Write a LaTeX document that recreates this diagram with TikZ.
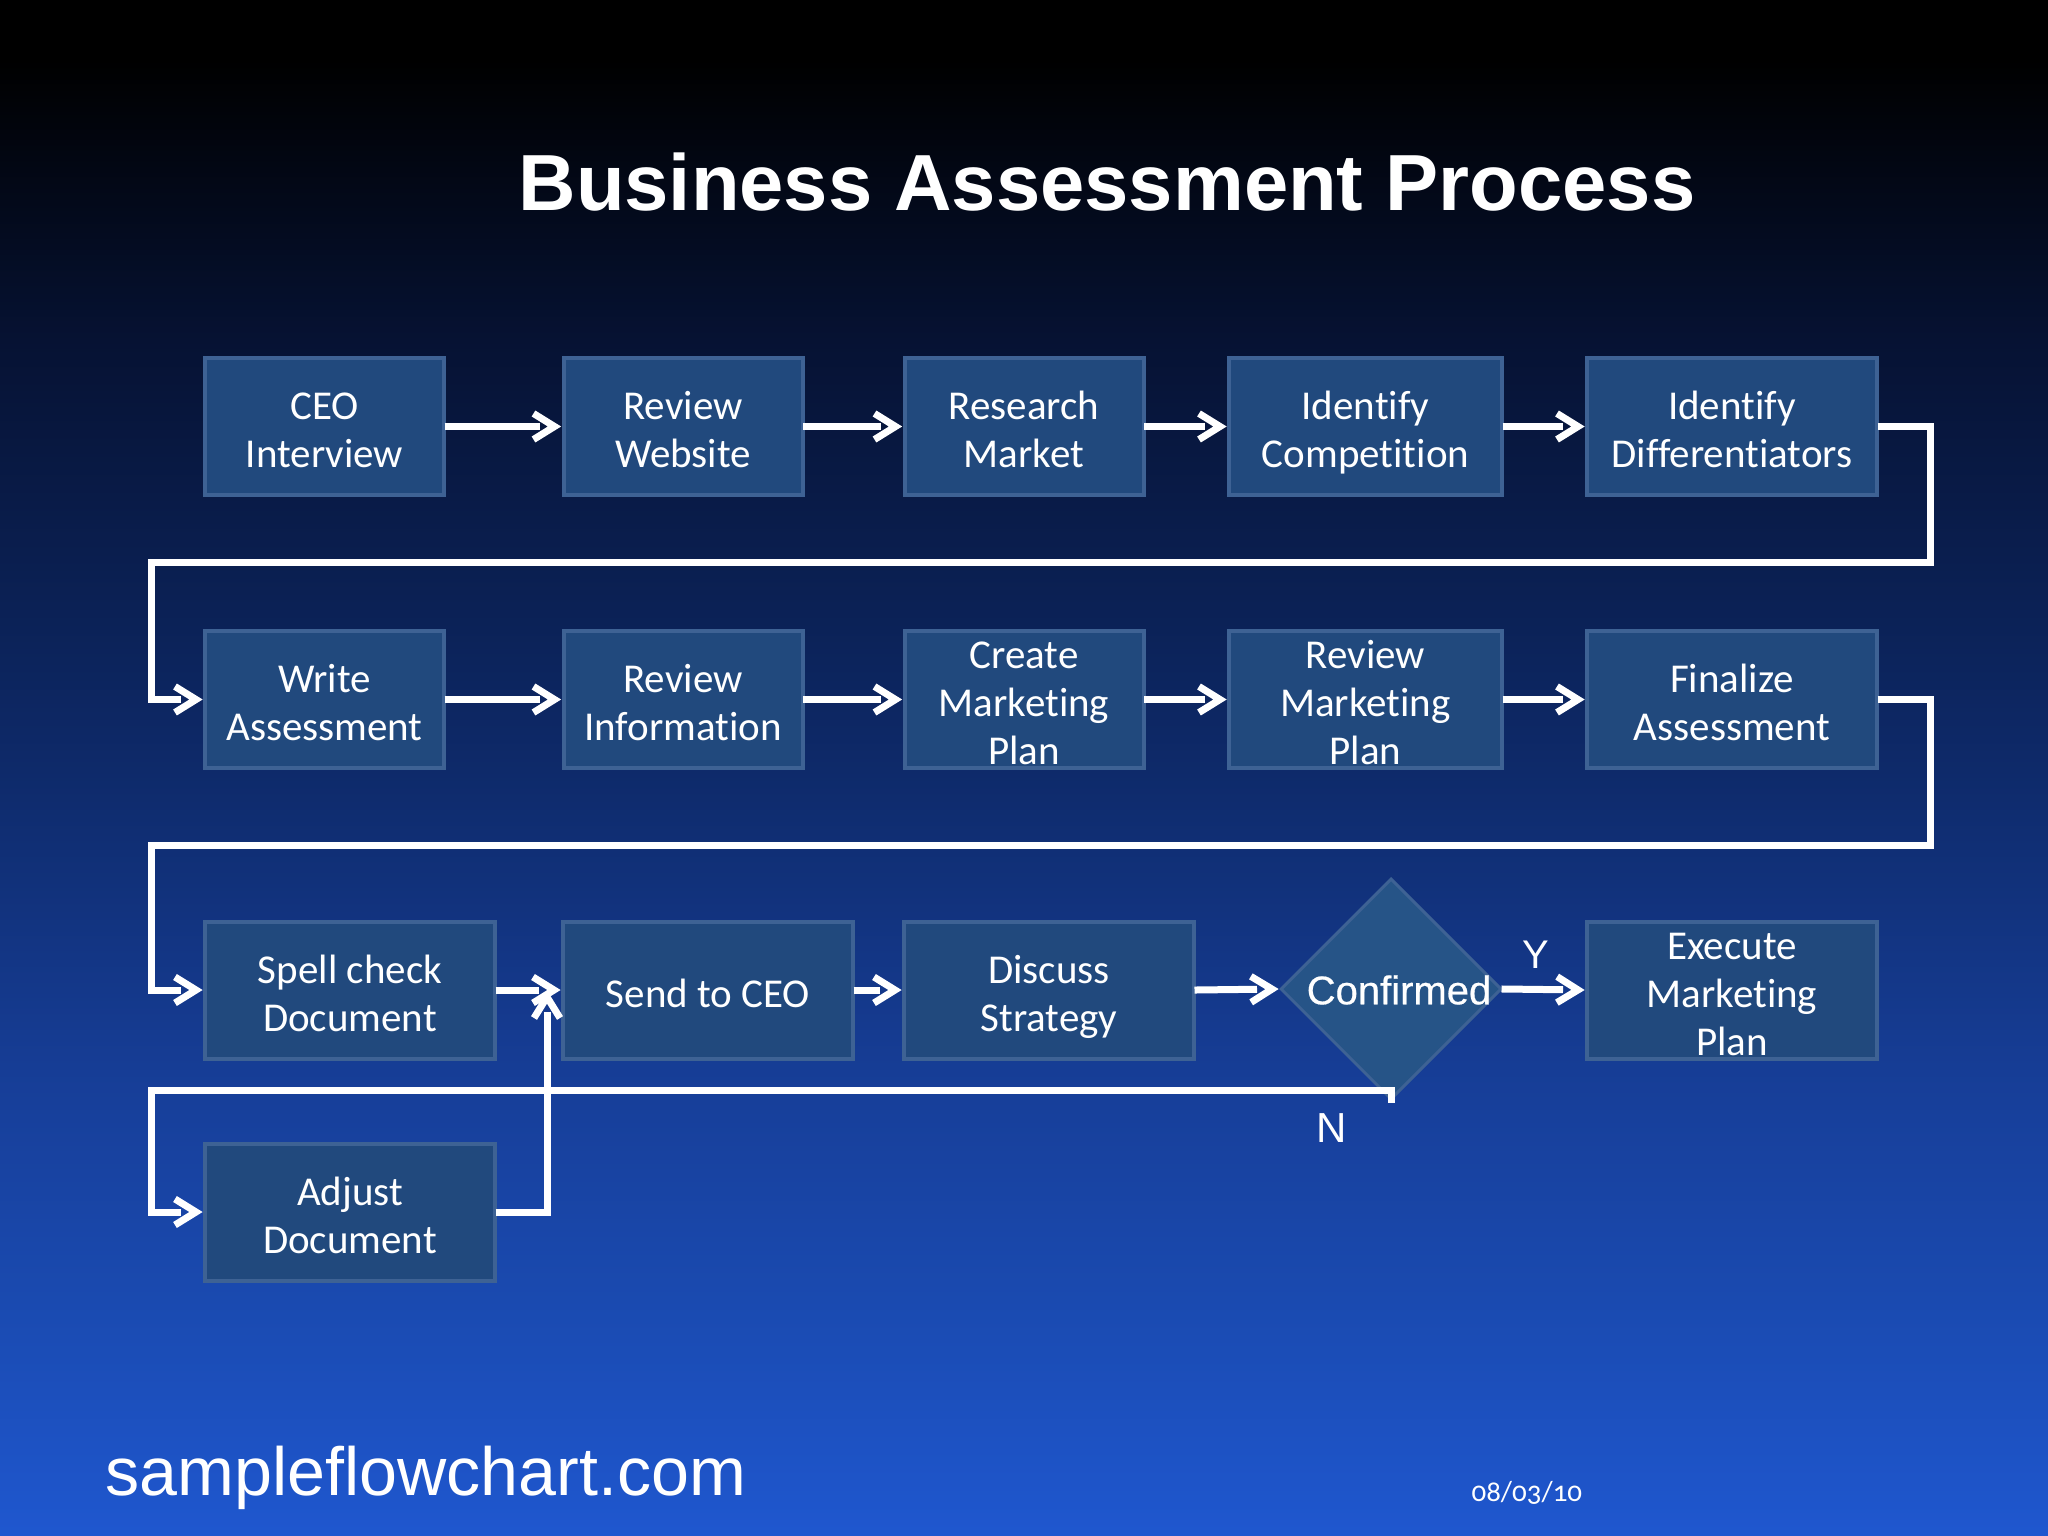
\documentclass[tikz,border=0pt]{standalone}
\usepackage{fontspec}
\setmainfont[Ligatures=NoCommon]{Carlito}
\newfontfamily\arialf{Liberation Sans}
\newfontfamily\conff[FakeBold=0.5]{Liberation Sans}
\newfontfamily\datef[Numbers=OldStyle]{Carlito}
\usetikzlibrary{arrows.meta,shapes.geometric,calc}
\definecolor{bgA}{RGB}{0,0,0}
\definecolor{bgB}{RGB}{6,18,51}
\definecolor{bgC}{RGB}{14,42,106}
\definecolor{bgD}{RGB}{23,63,154}
\definecolor{bgE}{RGB}{26,74,176}
\definecolor{bgF}{RGB}{31,87,207}
\definecolor{boxfill}{RGB}{33,73,125}
\definecolor{boxedge}{RGB}{62,98,148}
\definecolor{diafill}{RGB}{38,84,135}
\pgfdeclareverticalshading{bgshade}{100bp}{
 color(0bp)=(bgF);
 color(25bp)=(bgF);
 color(32.68bp)=(bgE);
 color(39.19bp)=(bgD);
 color(49.93bp)=(bgC);
 color(63.93bp)=(bgB);
 color(73.05bp)=(bgA);
 color(100bp)=(bgA)}
\pgfdeclarearrow{
 name=Chev,
 setup code={
  \pgfarrowssettipend{0pt}
  \pgfarrowssetlineend{-22pt}
  \pgfarrowssetvisualbackend{-22pt}
  \pgfarrowshullpoint{0pt}{0pt}
  \pgfarrowshullpoint{-30pt}{16pt}
  \pgfarrowshullpoint{-30pt}{-16pt}
 },
 drawing code={
  \pgfsetlinewidth{7pt}\pgfsetmiterjoin\pgfsetbuttcap
  \pgfpathmoveto{\pgfpoint{-28pt}{13pt}}
  \pgfpathlineto{\pgfpoint{-7pt}{0pt}}
  \pgfpathlineto{\pgfpoint{-28pt}{-13pt}}
  \pgfusepathqstroke
 }
}
\newcommand\boxtext[1]{\raisebox{-13.85pt}[0pt][0pt]{\begin{tabular}[c]{@{}c@{}}#1\end{tabular}}}
\begin{document}
\begin{tikzpicture}[x=1pt,y=-1pt,
  stepbox/.style={rectangle,draw=boxedge,fill=boxfill,line width=4pt,inner sep=0pt,
    minimum height=137pt,text=white,
    font=\fontsize{41}{48}\selectfont},
  arr/.style={white,line width=7pt,line join=miter,shorten <=-1.5pt,-{Chev}}]
\useasboundingbox (0,0) rectangle (2048,1536);
\shade[shading=bgshade] (0,0) rectangle (2048,1536);

\node[text=white,font=\arialf\bfseries\fontsize{79.6}{90}\selectfont,anchor=center] (title) at (1107,182) {Business Assessment Process};

\node[stepbox,minimum width=239pt] (a1) at (324.5,426.5) {\boxtext{CEO\\Interview}};
\node[stepbox,minimum width=239pt] (a2) at (683,426.5) {\boxtext{Review\\Website}};
\node[stepbox,minimum width=239pt] (a3) at (1024,426.5) {\boxtext{Research\\Market}};
\node[stepbox,minimum width=273pt] (a4) at (1365.5,426.5) {\boxtext{Identify\\Competition}};
\node[stepbox,minimum width=290pt] (a5) at (1732,426.5) {\boxtext{Identify\\Differentiators}};

\node[stepbox,minimum width=239pt] (b1) at (324.5,699.5) {\boxtext{Write\\Assessment}};
\node[stepbox,minimum width=239pt] (b2) at (683,699.5) {\boxtext{Review\\Information}};
\node[stepbox,minimum width=239pt] (b3) at (1024,699.5) {\boxtext{Create\\Marketing\\Plan}};
\node[stepbox,minimum width=273pt] (b4) at (1365.5,699.5) {\boxtext{Review\\Marketing\\Plan}};
\node[stepbox,minimum width=290pt] (b5) at (1732,699.5) {\boxtext{Finalize\\Assessment}};

\node[stepbox,minimum width=290pt] (c1) at (350,990) {\boxtext{Spell check\\Document}};
\node[stepbox,minimum width=290pt] (c2) at (708,990) {\boxtext{Send to CEO}};
\node[stepbox,minimum width=290pt] (c3) at (1049,990) {\boxtext{Discuss\\Strategy}};
\node[diamond,draw=boxedge,fill=diafill,line width=3pt,inner sep=0pt,minimum width=221pt,minimum height=221pt,aspect=1] (dia) at (1391,989) {};
\node[text=white,font=\conff\fontsize{40}{48}\selectfont] (conf) at (1399,990) {Confirmed};
\node[stepbox,minimum width=290pt] (c5) at (1732,990) {\boxtext{Execute\\Marketing\\Plan}};
\node[stepbox,minimum width=290pt] (d1) at (350,1212) {\boxtext{Adjust\\Document}};

\node[text=white,font=\arialf\fontsize{40}{44}\selectfont] (yes) at (1536,955) {Y};
\node[text=white,font=\arialf\fontsize{42}{44}\selectfont] (no) at (1332,1128) {N};
\node[text=white,font=\arialf\fontsize{68.2}{72}\selectfont,anchor=west] (site) at (102,1478) {sampleflowchart.com};
\node[text=white,font=\datef\fontsize{29}{32}\selectfont,anchor=west] (date) at (1468,1493) {08/03/10};

\coordinate (rr) at (1930,0);
\coordinate (ll) at (151.5,0);
\coordinate (h1) at (0,562);
\coordinate (h2) at (0,845);
\coordinate (h3) at (0,1090);
\coordinate (vj) at (547,0);

\foreach \p/\q in {a1/a2,a2/a3,a3/a4,a4/a5,b1/b2,b2/b3,b3/b4,b4/b5,c1/c2,c2/c3}
  \draw[arr] (\p.east) -- (\q.west);
\draw[arr] (c3.east) -- (dia.west);
\draw[arr] (dia.east) -- (c5.west);

\draw[arr] (a5.east) -- (a5.east -| rr) -- (rr |- h1) -- (ll |- h1) -- (ll |- b1.west) -- (b1.west);
\draw[arr] (b5.east) -- (b5.east -| rr) -- (rr |- h2) -- (ll |- h2) -- (ll |- c1.west) -- (c1.west);
\draw[arr] (dia.south) -- (dia.south |- h3) -- (ll |- h3) -- (ll |- d1.west) -- (d1.west);
\draw[arr] (d1.east) -- (d1.east -| vj) -- (vj |- c2.west);
\end{tikzpicture}
\end{document}
